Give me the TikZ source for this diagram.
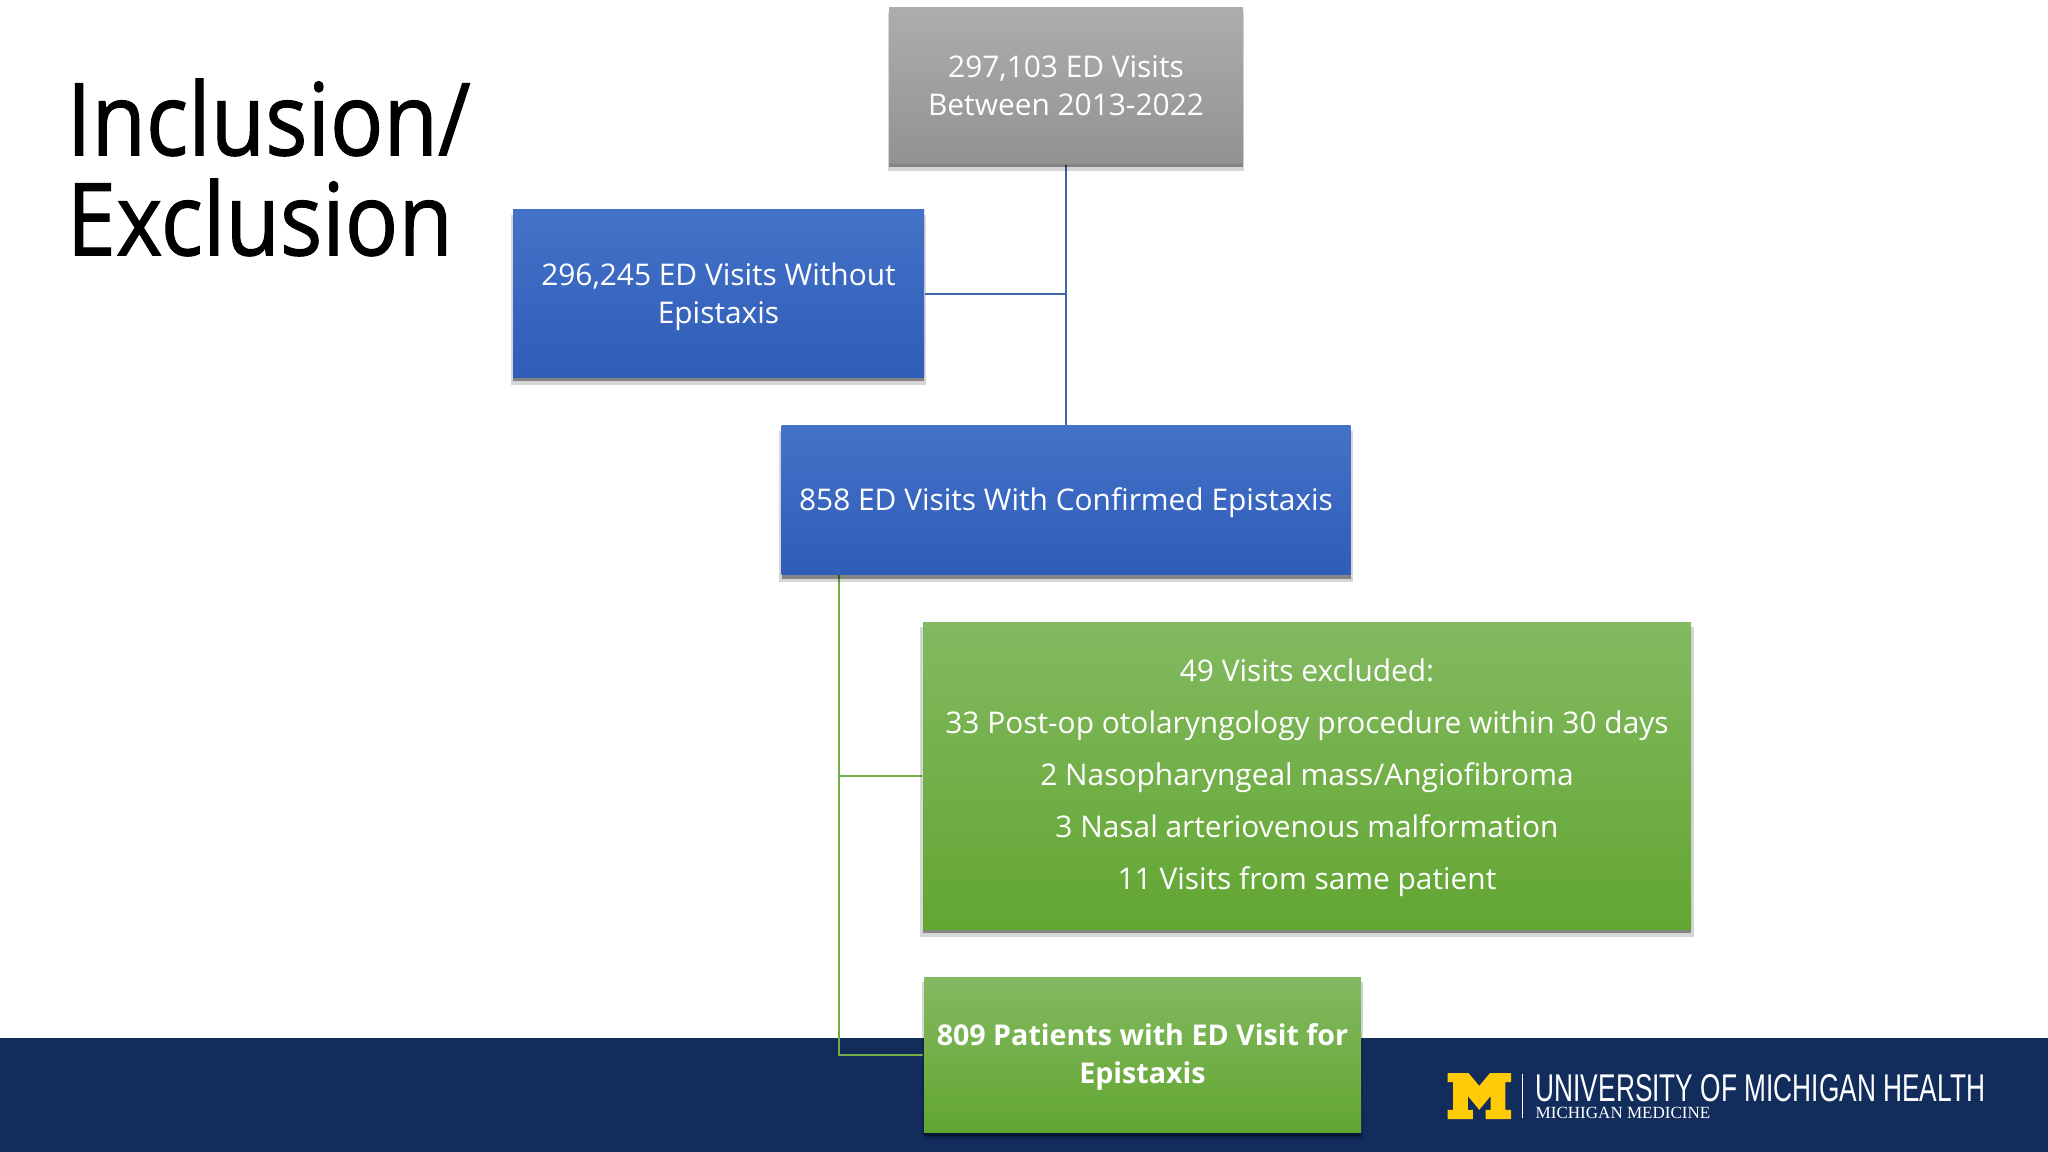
\documentclass[tikz,border=0pt]{standalone}
\usepackage{fontspec}
\setmainfont{Open Sans}
\newfontfamily\titlefont[FakeStretch=0.88, FakeBold=1.0]{Open Sans}
\newfontfamily\logoserif{Liberation Serif}
\newfontfamily\logosans[FakeStretch=0.68]{Liberation Sans}
\usetikzlibrary{shadows,backgrounds}
\definecolor{bandnavy}{HTML}{122C5B}
\definecolor{maize}{HTML}{FFCB05}
\definecolor{linkblue}{HTML}{3E65A8}
\definecolor{linkgreen}{HTML}{70AD47}
\definecolor{grayfirst}{HTML}{ADADAD}
\definecolor{graylast}{HTML}{929292}
\definecolor{bluefirst}{HTML}{4472C8}
\definecolor{bluelast}{HTML}{2F5DB7}
\definecolor{greenfirst}{HTML}{83B960}
\definecolor{greenlast}{HTML}{62A632}
\newcommand{\nudgeline}[1]{\rule{0pt}{#1}}
\tikzset{
    flowbox/.style={rectangle, inner sep=0pt, text=white, align=center,
        font={\fontsize{8.5}{10.8}\selectfont},
        drop shadow={shadow xshift=0, shadow yshift=-0.06, shadow scale=1.008, fill=black, opacity=0.16},
        drop shadow={shadow xshift=0, shadow yshift=-0.035, fill=black, opacity=0.38}},
    graybox/.style={flowbox, top color=grayfirst, bottom color=graylast},
    bluebox/.style={flowbox, top color=bluefirst, bottom color=bluelast},
    greenbox/.style={flowbox, top color=greenfirst, bottom color=greenlast},
    bluelink/.style={color=linkblue, line width=0.02cm},
    greenlink/.style={color=linkgreen, line width=0.02cm},
}
\begin{document}
\begin{tikzpicture}
    \useasboundingbox (0,0) rectangle (20.48,-11.52);

    \node[anchor=north west, inner sep=0pt, align=left, text=black, font={\titlefont\fontsize{28.7}{28.45}\selectfont}] (title) at (0.66,-0.78) {Inclusion/\\Exclusion};

    % boxes
    \node[graybox, minimum width=3.54cm, minimum height=1.56cm] (visits) at (10.66,-0.86) {297,103 ED Visits\\Between 2013-2022};
    \node[bluebox, minimum width=4.11cm, minimum height=1.68cm] (without) at (7.185,-2.94) {\nudgeline{2.8mm}296,245 ED Visits Without\\Epistaxis};
    \node[bluebox, minimum width=5.69cm, minimum height=1.49cm, text height=2.8mm, text depth=0.8mm] (confirmed) at (10.66,-5.005) {858 ED Visits With Confirmed Epistaxis};
    \node[greenbox, minimum width=7.68cm, minimum height=3.07cm, font={\fontsize{8.5}{14.8}\selectfont}] (excluded) at (13.07,-7.76) {\nudgeline{2.55mm}49 Visits excluded:\\33 Post-op otolaryngology procedure within 30 days\\2 Nasopharyngeal mass/Angiofibroma\\3 Nasal arteriovenous malformation\\11 Visits from same patient};
    \node[greenbox, minimum width=4.37cm, minimum height=1.55cm, font={\fontsize{8.15}{10.8}\selectfont\bfseries}] (final) at (11.425,-10.545) {\nudgeline{2.75mm}809 Patients with ED Visit for\\Epistaxis};

    \coordinate (trunk) at (8.39,-5.75);

    \begin{scope}[on background layer]
        \fill[white] (0,0) rectangle (20.48,-11.52);
        % footer band
        \fill[bandnavy] (0,-10.38) rectangle (20.48,-11.52);
        % connectors
        \draw[bluelink] (visits.south) -- (confirmed.north);
        \draw[bluelink] (without.east) -- (without.east -| visits.south);
        \draw[greenlink] (trunk) |- (excluded.west);
        \draw[greenlink] (trunk) |- (final.west);
    \end{scope}

    % logo
    \begin{scope}[shift={(14.475,-10.73)}, xscale=0.635, yscale=-0.46]
        \fill[maize] (0,0) -- (0.33,0) -- (0.5,0.28) -- (0.67,0) -- (1,0) -- (1,0.2) -- (0.91,0.2) -- (0.91,0.8) -- (1,0.8) -- (1,1) -- (0.6,1) -- (0.6,0.8) -- (0.68,0.8) -- (0.68,0.5) -- (0.5,0.8) -- (0.32,0.5) -- (0.32,0.8) -- (0.4,0.8) -- (0.4,1) -- (0,1) -- (0,0.8) -- (0.09,0.8) -- (0.09,0.2) -- (0,0.2) -- cycle;
    \end{scope}
    \coordinate (divtop) at (15.22,-10.74);
    \coordinate (divbot) at (15.22,-11.18);
    \draw[white, line width=0.01cm] (divtop) -- (divbot);
    \node[anchor=base west, inner sep=0pt, text=white, font={\logosans\fontsize{11}{12}\selectfont}] (uofm) at (15.35,-11.01) {UNIVERSITY OF MICHIGAN HEALTH};
    \node[anchor=base west, inner sep=0pt, text=white, font={\logoserif\fontsize{4.85}{5}\selectfont}] (medicine) at (15.35,-11.18) {MICHIGAN MEDICINE};
\end{tikzpicture}
\end{document}
